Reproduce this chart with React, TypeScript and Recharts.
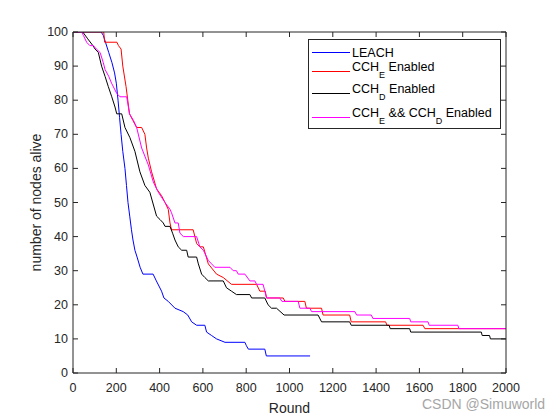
import React from 'react';
import { LineChart, Line, XAxis, YAxis, Legend } from 'recharts';

const xTicks = [0, 200, 400, 600, 800, 1000, 1200, 1400, 1600, 1800, 2000];
const yTicks = [0, 10, 20, 30, 40, 50, 60, 70, 80, 90, 100];

const seriesNames = ['LEACH', 'CCH_E Enabled', 'CCH_D Enabled', 'CCH_E && CCH_D Enabled'];
const seriesColors = ['#0000ff', '#ff0000', '#000000', '#ff00ff'];

const leachRounds = [0, 130, 140, 150, 165, 180, 192, 200, 208, 215, 222, 230, 240, 247, 254, 262, 270, 277, 286, 296, 310, 323, 370, 385, 409, 420, 440, 471, 509, 530, 548, 571, 609, 617, 640, 663, 702, 794, 801, 810, 886, 893, 1095];
const leachAlive = [100, 100, 99, 97, 94, 91, 88, 85, 80, 75, 70, 65, 60, 55, 50, 46, 42, 39, 36, 34, 31, 29, 29, 27, 24, 22, 21, 19, 18, 17, 15, 14, 14, 12, 11, 10, 9, 9, 8, 7, 7, 5, 5];

const cchERounds = [0, 142, 146, 203, 210, 222, 230, 245, 261, 277, 294, 317, 332, 340, 348, 363, 386, 409, 425, 440, 448, 455, 555, 571, 586, 602, 625, 663, 694, 732, 848, 863, 888, 894, 971, 979, 1071, 1078, 1148, 1155, 1278, 1285, 1444, 1450, 1617, 1625, 2000];
const cchEAlive = [100, 100, 97, 97, 96, 95, 90, 84, 76, 74, 72, 72, 70, 66, 63, 59, 54, 52, 50, 48, 44, 42, 42, 38, 37, 37, 32, 29, 28, 26, 26, 24, 24, 22, 22, 21, 21, 19, 19, 17, 17, 15, 15, 14, 14, 13, 13];

const cchDRounds = [0, 45, 68, 92, 102, 117, 132, 148, 163, 179, 194, 202, 225, 240, 263, 286, 309, 332, 355, 386, 402, 417, 425, 448, 460, 471, 486, 502, 525, 532, 571, 579, 594, 609, 625, 694, 709, 732, 755, 817, 825, 886, 901, 917, 940, 975, 1132, 1148, 1278, 1285, 1460, 1465, 1555, 1560, 1886, 1890, 1924, 1928, 2000];
const cchDAlive = [100, 100, 98, 96, 95, 94, 90, 87, 84, 81, 78, 76, 76, 72, 69, 65, 59, 55, 53, 46, 45, 44, 43, 43, 41, 39, 37, 36, 36, 34, 34, 32, 29, 28, 27, 27, 25, 24, 23, 23, 22, 22, 20, 19, 19, 17, 17, 15, 15, 14, 14, 13, 13, 12, 12, 11, 11, 10, 10];

const bothRounds = [0, 40, 48, 63, 78, 94, 108, 125, 140, 148, 165, 178, 202, 217, 248, 261, 280, 294, 317, 348, 371, 394, 425, 448, 455, 471, 486, 494, 510, 571, 586, 602, 625, 640, 655, 725, 740, 755, 763, 794, 817, 840, 848, 878, 886, 894, 955, 965, 1040, 1048, 1094, 1102, 1302, 1310, 1378, 1385, 1555, 1560, 1640, 1645, 1778, 1782, 2000];
const bothAlive = [100, 100, 99, 97, 96, 96, 95, 94, 91, 89, 87, 85, 82, 81, 81, 76, 74, 72, 66, 61, 56, 53, 50, 48, 47, 44, 44, 41, 40, 40, 37, 36, 33, 32, 31, 31, 30, 30, 29, 29, 27, 27, 26, 26, 24, 22, 22, 21, 21, 19, 19, 18, 18, 17, 17, 16, 16, 15, 15, 14, 14, 13, 13];

const toPoints = (xs: number[], ys: number[]) => xs.map((x, i) => ({ round: x, alive: ys[i] }));

const seriesData = [
  toPoints(leachRounds, leachAlive),
  toPoints(cchERounds, cchEAlive),
  toPoints(cchDRounds, cchDAlive),
  toPoints(bothRounds, bothAlive),
];

// Both axis pairs share identical domains; half of the series are bound to the
// top/right pair so those frame axes are rendered too.
const xAxisIds = ['bottom', 'bottom', 'top', 'top'];
const yAxisIds = ['left', 'left', 'right', 'right'];

const FONT = 'Liberation Sans, Arial, Helvetica, sans-serif';
const AXIS_COLOR = '#262626';
const TICK_LEN = 5;
const TICK_FONT = 12.5;

const BottomTick = (props: any) => {
  const { x, y, payload } = props;
  return (
    <g>
      <line x1={x} y1={y} x2={x} y2={y - TICK_LEN} stroke={AXIS_COLOR} strokeWidth={1} />
      <text x={x} y={y + 15} textAnchor="middle" dominantBaseline="central" fontSize={TICK_FONT} fontFamily={FONT} fill={AXIS_COLOR}>
        {payload.value}
      </text>
    </g>
  );
};

const LeftTick = (props: any) => {
  const { x, y, payload } = props;
  return (
    <g>
      <line x1={x} y1={y} x2={x + TICK_LEN} y2={y} stroke={AXIS_COLOR} strokeWidth={1} />
      <text x={x - 5} y={y} textAnchor="end" dominantBaseline="central" fontSize={TICK_FONT} fontFamily={FONT} fill={AXIS_COLOR}>
        {payload.value}
      </text>
    </g>
  );
};

const TopTick = (props: any) => {
  const { x, y } = props;
  return <line x1={x} y1={y} x2={x} y2={y + TICK_LEN} stroke={AXIS_COLOR} strokeWidth={1} />;
};

const RightTick = (props: any) => {
  const { x, y } = props;
  return <line x1={x} y1={y} x2={x - TICK_LEN} y2={y} stroke={AXIS_COLOR} strokeWidth={1} />;
};

const renderName = (name: string) => {
  const parts = name.split(/_([A-Z])/);
  return parts.map((p, i) =>
    i % 2 === 1 ? (
      <span key={i} style={{ fontSize: 9, position: 'relative', top: 7, display: 'inline-block', lineHeight: '9px' }}>{p}</span>
    ) : (
      <span key={i} style={{ whiteSpace: 'pre' }}>{p}</span>
    )
  );
};

const rowCenters = [13.3, 31.7, 53.7, 78.3];

const LegendBox = () => {
  return (
    <div
      style={{
        position: 'relative',
        width: 193,
        height: 90,
        border: `1px solid ${AXIS_COLOR}`,
        background: '#fff',
        boxSizing: 'border-box',
        fontFamily: FONT,
        fontSize: 12.5,
        color: '#000',
      }}
    >
      {seriesNames.map((name, i) => {
        const hasSub = name.includes('_');
        return (
          <div key={name} style={{ position: 'absolute', left: 0, top: rowCenters[i] - 10, height: 20, width: '100%' }}>
            <div style={{ position: 'absolute', left: 3, top: 9, width: 38, height: 1, background: seriesColors[i] }} />
            <div style={{ position: 'absolute', left: 43, top: hasSub ? -5 : 0, lineHeight: '20px', whiteSpace: 'nowrap' }}>
              {renderName(name)}
            </div>
          </div>
        );
      })}
    </div>
  );
};

const YLabel = (props: any) => {
  const vb = props.viewBox || {};
  const cx = vb.x + 3;
  const cy = vb.y + vb.height / 2;
  return (
    <text x={cx} y={cy} transform={`rotate(-90, ${cx}, ${cy})`} textAnchor="middle" dominantBaseline="central" fontSize={14} fontFamily={FONT} fill={AXIS_COLOR}>
      number of nodes alive
    </text>
  );
};

const XLabel = (props: any) => {
  const vb = props.viewBox || {};
  const cx = vb.x + vb.width / 2;
  const cy = vb.y + 35;
  return (
    <text x={cx} y={cy} textAnchor="middle" dominantBaseline="central" fontSize={14} fontFamily={FONT} fill={AXIS_COLOR}>
      Round
    </text>
  );
};

export default function App() {
  return (
    <div style={{ position: 'absolute', left: 0, top: 0, width: 560, height: 420, background: '#fff' }}>
      <LineChart width={560} height={420} margin={{ top: 31, right: 53, bottom: 5, left: 33 }}>
        <XAxis
          xAxisId="bottom"
          dataKey="round"
          type="number"
          domain={[0, 2000]}
          ticks={xTicks}
          interval={0}
          allowDataOverflow
          orientation="bottom"
          height={42}
          tickSize={0}
          tickMargin={0}
          tickLine={false}
          stroke={AXIS_COLOR}
          tick={<BottomTick />}
          label={<XLabel />}
        />
        <XAxis
          xAxisId="top"
          dataKey="round"
          type="number"
          domain={[0, 2000]}
          ticks={xTicks}
          interval={0}
          allowDataOverflow
          orientation="top"
          height={1}
          tickSize={0}
          tickMargin={0}
          tickLine={false}
          tick={<TopTick />}
          stroke={AXIS_COLOR}
        />
        <YAxis
          yAxisId="left"
          type="number"
          domain={[0, 100]}
          ticks={yTicks}
          interval={0}
          allowDataOverflow
          orientation="left"
          width={40}
          tickSize={0}
          tickMargin={0}
          tickLine={false}
          stroke={AXIS_COLOR}
          tick={<LeftTick />}
          label={<YLabel />}
        />
        <YAxis
          yAxisId="right"
          type="number"
          domain={[0, 100]}
          ticks={yTicks}
          interval={0}
          allowDataOverflow
          orientation="right"
          width={1}
          tickSize={0}
          tickMargin={0}
          tickLine={false}
          tick={<RightTick />}
          stroke={AXIS_COLOR}
        />
        {seriesData.map((d, i) => (
          <Line
            key={seriesNames[i]}
            xAxisId={xAxisIds[i]}
            yAxisId={yAxisIds[i]}
            data={d}
            dataKey="alive"
            name={seriesNames[i]}
            type="linear"
            stroke={seriesColors[i]}
            strokeWidth={1}
            dot={false}
            activeDot={false}
            isAnimationActive={false}
          />
        ))}
        <Legend
          layout="vertical"
          align="center"
          verticalAlign="middle"
          content={<LegendBox />}
          wrapperStyle={{ left: 308, top: 39, width: 193, height: 90 }}
        />
      </LineChart>
      <div
        style={{
          position: 'absolute',
          left: 422,
          top: 396,
          fontFamily: FONT,
          fontSize: 14,
          color: '#a6a6a6',
          whiteSpace: 'nowrap',
        }}
      >
        CSDN @Simuworld
      </div>
    </div>
  );
}
